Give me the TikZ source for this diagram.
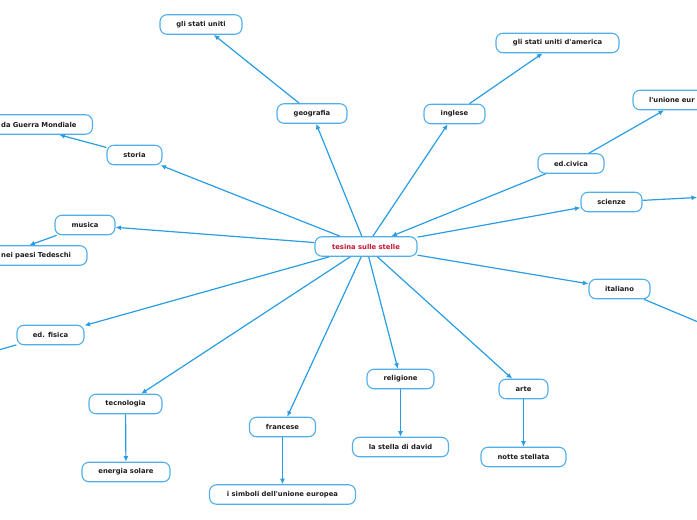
\documentclass[tikz,border=0pt]{standalone}
\usepackage{fontspec}
\newfontfamily\dvsans{DejaVu Sans}
\usetikzlibrary{arrows.meta}
\definecolor{linkblue}{RGB}{41,157,226}
\definecolor{boxblue}{RGB}{80,175,235}
\definecolor{mainred}{RGB}{200,20,50}
\definecolor{txt}{RGB}{30,30,30}
\begin{document}
\begin{tikzpicture}[x=1pt,y=-1pt,
 topic/.style={draw=boxblue, line width=1.1pt, rounded corners=7pt, fill=white, text=txt,
   font=\dvsans\bfseries\fontsize{6.8}{8}\selectfont, minimum height=19.5pt, inner xsep=1pt, inner ysep=0pt},
 link/.style={draw=linkblue, line width=1.2pt, -{Latex[length=5.5pt,width=5pt]}}]
\useasboundingbox (0,0) rectangle (697,520);
\clip (0,0) rectangle (697,520);

\node[topic, text=mainred, minimum width=102pt] (main) at (366,246.5) {tesina sulle stelle};
\node[topic, minimum width=70pt] (geo) at (312,113.5) {geografia};
\node[topic, minimum width=82pt] (usa) at (201,24.5) {gli stati uniti};
\node[topic, minimum width=61pt] (ing) at (454.5,114) {inglese};
\node[topic, minimum width=123pt] (usaam) at (557.5,43) {gli stati uniti d'america};
\node[topic, minimum width=66pt] (civ) at (571,163.5) {ed.civica};
\node[topic, text width=66pt, align=left, inner xsep=16pt] (ue) at (682,100) {l'unione eur};
\node[topic, minimum width=61pt] (sci) at (611.5,202) {scienze};
\coordinate (sciout) at (697,197.5);
\node[topic, minimum width=55pt] (sto) at (134.5,155) {storia};
\node[topic, text width=111pt, align=right, inner xsep=16pt] (guerra) at (21,124.5) {da Guerra Mondiale};
\node[topic, minimum width=60pt] (mus) at (85,225) {musica};
\node[topic, text width=140pt, align=right, inner xsep=16pt] (ted) at (1,255.5) {nei paesi Tedeschi};
\node[topic, minimum width=61pt] (ita) at (619.5,289) {italiano};
\coordinate (itaout) at (760,348);
\node[topic, minimum width=67pt] (fis) at (50.5,335) {ed. fisica};
\coordinate (fisout) at (-60,367);
\node[topic, minimum width=73pt] (tec) at (125.5,404) {tecnologia};
\node[topic, minimum width=88pt] (sol) at (126,472) {energia solare};
\node[topic, minimum width=66pt] (fra) at (282.5,427) {francese};
\node[topic, minimum width=146pt] (simb) at (282.5,494.5) {i simboli dell'unione europea};
\node[topic, minimum width=67pt] (rel) at (400.5,379) {religione};
\node[topic, minimum width=96pt] (david) at (400.5,447) {la stella di david};
\node[topic, minimum width=49pt] (arte) at (523.5,389) {arte};
\node[topic, minimum width=85pt] (notte) at (523.5,457) {notte stellata};

\draw[link] (main) -- (geo);
\draw[link] (main) -- (ing);
\draw[link] (main) -- (sto);
\draw[link] (main) -- (mus);
\draw[link] (main) -- (fis);
\draw[link] (main) -- (tec);
\draw[link] (main) -- (fra);
\draw[link] (main) -- (rel);
\draw[link] (main) -- (arte);
\draw[link] (main) -- (ita);
\draw[link] (main) -- (sci);
\draw[link] (civ) -- (main);
\draw[link] (geo) -- (usa);
\draw[link] (ing) -- (usaam);
\draw[link] (civ) -- (ue);
\draw[link] (sto) -- (guerra);
\draw[link] (mus) -- (ted);
\draw[link] (tec) -- (sol);
\draw[link] (fra) -- (simb);
\draw[link] (rel) -- (david);
\draw[link] (arte) -- (notte);
\draw[link] (sci) -- (sciout);
\draw[link] (ita) -- (itaout);
\draw[link] (fis) -- (fisout);
\end{tikzpicture}
\end{document}
